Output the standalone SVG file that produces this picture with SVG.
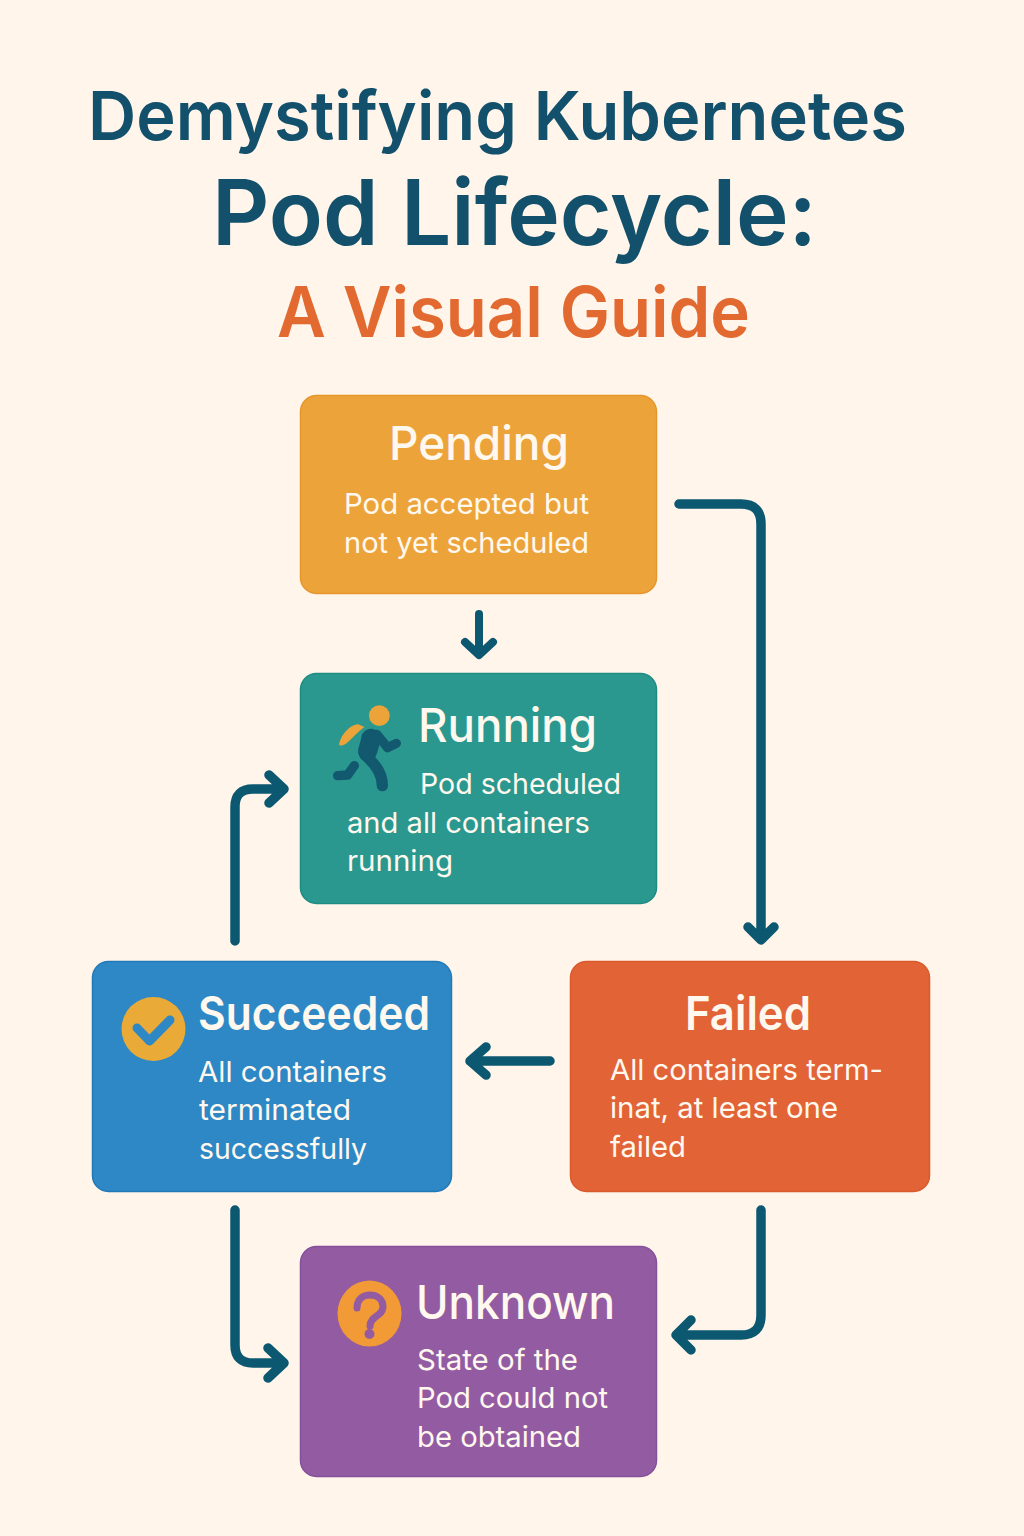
<svg xmlns="http://www.w3.org/2000/svg" width="1024" height="1536" viewBox="0 0 1024 1536">
<style>
text{font-family:"Inter","Noto Sans",sans-serif}
.t{fill:#12506b;font-weight:600}
.h{fill:#fff8ef;font-size:47px;font-weight:500}
.b{fill:#fff8ef;font-size:29px;font-weight:400}
.c{fill:none;stroke:#0b5870;stroke-width:9.500;stroke-linecap:round;stroke-linejoin:round}
.n{stroke-width:1.5}
.fig{fill:none;stroke:#12586f;stroke-linecap:round;stroke-linejoin:round}
</style>
<rect width="1024" height="1536" fill="#fff5ea"/>
<g id="title">
<text class="t" x="88" y="140" font-size="68" textLength="819" lengthAdjust="spacingAndGlyphs">Demystifying Kubernetes</text>
<text class="t" x="212" y="245" font-size="91" textLength="605" lengthAdjust="spacingAndGlyphs">Pod Lifecycle:</text>
<text x="277" y="337" font-size="70" font-weight="600" fill="#e2692f" textLength="473" lengthAdjust="spacingAndGlyphs">A Visual Guide</text>
</g>
<g id="connectors">
<path class="c" d="M679 504H741Q761 504 761 524V940M748 927L761 940L774 927"/>
<path class="c" style="stroke-width:8" d="M479 614V654M465 642L479 655L493 642"/>
<path class="c" d="M235 941V807Q235 789 253 789H283M269 775L284 789L269 803"/>
<path class="c" d="M550 1061H472M486 1047L470 1061L486 1075"/>
<path class="c" d="M235 1210V1345Q235 1363 253 1363H283M268 1348L284 1363L268 1378"/>
<path class="c" d="M761 1210V1315Q761 1335 741 1335H678M691 1320L676 1335L691 1350"/>
</g>
<g id="pending">
<rect class="n" x="300.500" y="395.500" width="356" height="198" rx="16" fill="#eca43a" stroke="#e5962c"/>
<text class="h" x="389" y="460" textLength="180" lengthAdjust="spacingAndGlyphs">Pending</text>
<text class="b" x="344" y="514" textLength="245" lengthAdjust="spacingAndGlyphs">Pod accepted but</text>
<text class="b" x="344" y="553" textLength="245" lengthAdjust="spacingAndGlyphs">not yet scheduled</text>
</g>
<g id="running">
<rect class="n" x="300.500" y="673.500" width="356" height="230" rx="16" fill="#2a988e" stroke="#1f8c84"/>
<g transform="translate(325 695) scale(.3333)">
<path d="M42 148C50 115 75 90 100 88L118 96C100 110 85 125 70 140C60 150 45 156 42 148Z" fill="#eca43a"/>
<circle cx="163" cy="62" r="31" fill="#eca43a"/>
<path class="fig" stroke-width="58" d="M138 130C136 145 130 160 128 168"/>
<path class="fig" stroke-width="28" d="M155 118L188 158L214 145"/>
<path class="fig" stroke-width="34" d="M120 180C150 205 172 235 172 272"/>
<path class="fig" stroke-width="28" d="M88 212L68 240L38 242"/>
</g>
<text class="h" x="418" y="742" textLength="179" lengthAdjust="spacingAndGlyphs">Running</text>
<text class="b" x="420" y="794" textLength="201" lengthAdjust="spacingAndGlyphs">Pod scheduled</text>
<text class="b" x="347" y="833" textLength="243" lengthAdjust="spacingAndGlyphs">and all containers</text>
<text class="b" x="347" y="871" textLength="106" lengthAdjust="spacingAndGlyphs">running</text>
</g>
<g id="succeeded">
<rect class="n" x="92.500" y="961.500" width="359" height="230" rx="16" fill="#2e88c5" stroke="#2279b8"/>
<circle cx="153.500" cy="1029" r="32" fill="#eaaa37"/>
<path d="M137 1028L149.500 1041L170 1020" fill="none" stroke="#2e88c5" stroke-width="9" stroke-linecap="round" stroke-linejoin="round"/>
<text class="h" style="font-weight:600" x="198" y="1030" textLength="232" lengthAdjust="spacingAndGlyphs">Succeeded</text>
<text class="b" x="198" y="1082" textLength="189" lengthAdjust="spacingAndGlyphs">All containers</text>
<text class="b" x="199" y="1120" textLength="152" lengthAdjust="spacingAndGlyphs">terminated</text>
<text class="b" x="199" y="1159" textLength="168" lengthAdjust="spacingAndGlyphs">successfully</text>
</g>
<g id="failed">
<rect class="n" x="570.500" y="961.500" width="359" height="230" rx="16" fill="#e26335" stroke="#d95a2c"/>
<text class="h" style="font-weight:600" x="685" y="1030" textLength="126" lengthAdjust="spacingAndGlyphs">Failed</text>
<text class="b" x="610" y="1080" textLength="273" lengthAdjust="spacingAndGlyphs">All containers term-</text>
<text class="b" x="610" y="1118" textLength="228" lengthAdjust="spacingAndGlyphs">inat, at least one</text>
<text class="b" x="610" y="1157" textLength="76" lengthAdjust="spacingAndGlyphs">failed</text>
</g>
<g id="unknown">
<rect class="n" x="300.500" y="1246.500" width="356" height="230" rx="16" fill="#935ca2" stroke="#84509a"/>
<ellipse cx="369.500" cy="1313.500" rx="32" ry="33" fill="#f29a35"/>
<path d="M357 1308C357 1299 363 1295 370 1295C378 1295 383 1300 383 1307C383 1316 370 1316 370 1326" fill="none" stroke="#935ca2" stroke-width="7" stroke-linecap="round"/>
<circle cx="369.500" cy="1334" r="5" fill="#935ca2"/>
<text class="h" x="416" y="1319" textLength="199" lengthAdjust="spacingAndGlyphs">Unknown</text>
<text class="b" x="417" y="1370" textLength="161" lengthAdjust="spacingAndGlyphs">State of the</text>
<text class="b" x="417" y="1408" textLength="191" lengthAdjust="spacingAndGlyphs">Pod could not</text>
<text class="b" x="417" y="1447" textLength="164" lengthAdjust="spacingAndGlyphs">be obtained</text>
</g>
</svg>
